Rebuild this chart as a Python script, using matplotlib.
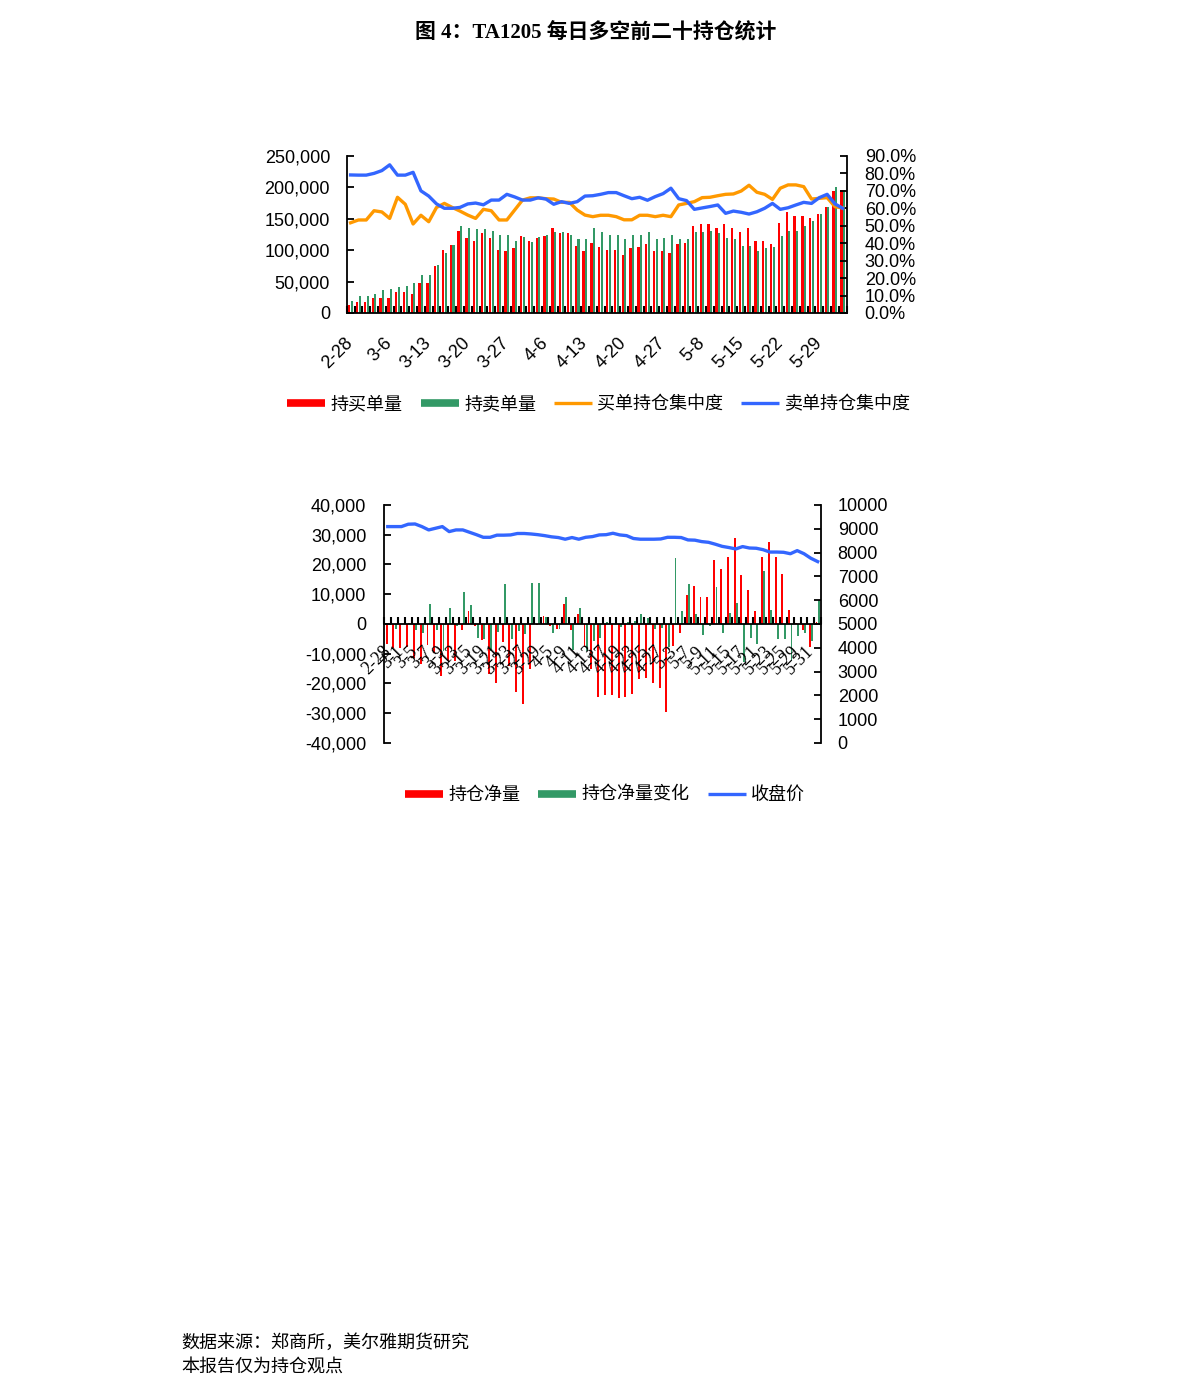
import matplotlib
matplotlib.use('Agg')
import numpy as np
import matplotlib.pyplot as plt
from matplotlib.lines import Line2D
from matplotlib.ticker import MultipleLocator, FuncFormatter

plt.rcParams['font.family'] = ['Liberation Sans', 'Noto Sans CJK SC']
CJK = ['Noto Sans CJK SC', 'DejaVu Sans']

# trading days, 2-28 .. 6-1
dates = ['2-28', '2-29', '3-1', '3-2', '3-5', '3-6', '3-7', '3-8', '3-9', '3-12',
         '3-13', '3-14', '3-15', '3-16', '3-19', '3-20', '3-21', '3-22', '3-23', '3-26',
         '3-27', '3-28', '3-29', '3-30', '4-5', '4-6', '4-9', '4-10', '4-11', '4-12',
         '4-13', '4-16', '4-17', '4-18', '4-19', '4-20', '4-23', '4-24', '4-25', '4-26',
         '4-27', '5-2', '5-3', '5-4', '5-7', '5-8', '5-9', '5-10', '5-11', '5-14',
         '5-15', '5-16', '5-17', '5-18', '5-21', '5-22', '5-23', '5-24', '5-25', '5-28',
         '5-29', '5-30', '5-31', '6-1']

# top chart: long / short volume of top 20 and concentration (%)
buy_vol = [12000, 17000, 17000, 24000, 24000, 24000, 34000, 34000, 31000, 48000,
           48000, 74000, 100000, 109000, 131000, 119000, 114000, 127000, 119000, 100000,
           98000, 103000, 122000, 115000, 119000, 122000, 136000, 127000, 127000, 107000,
           98000, 112000, 105000, 100000, 100000, 93000, 103000, 105000, 110000, 98000,
           98000, 95000, 110000, 112000, 138000, 141000, 141000, 136000, 141000, 136000,
           129000, 136000, 114000, 114000, 110000, 143000, 160000, 155000, 155000, 151000,
           157000, 168000, 194000, 196000]
sell_vol = [19000, 27000, 27000, 31000, 36000, 38000, 41000, 43000, 48000, 60000,
            60000, 76000, 95000, 109000, 138000, 136000, 134000, 134000, 131000, 124000,
            124000, 114000, 121000, 113000, 121000, 124000, 129000, 129000, 124000, 117000,
            117000, 136000, 129000, 124000, 124000, 117000, 124000, 124000, 129000, 117000,
            119000, 124000, 117000, 117000, 129000, 129000, 131000, 127000, 119000, 117000,
            107000, 107000, 98000, 103000, 105000, 122000, 131000, 131000, 138000, 146000,
            157000, 169000, 201000, 196000]
buy_conc = [51.7, 53.3, 53.3, 58.6, 57.9, 54.2, 66.3, 62.3, 51.0, 56.0,
            52.3, 60.5, 62.8, 60.5, 58.4, 56.1, 54.2, 59.4, 58.6, 53.3,
            53.3, 59.0, 64.7, 66.0, 66.0, 65.5, 65.3, 63.4, 63.4, 59.0,
            56.1, 55.2, 56.0, 56.0, 55.2, 53.4, 53.4, 56.0, 56.0, 55.2,
            56.0, 55.2, 61.9, 62.8, 63.8, 66.1, 66.3, 67.2, 68.0, 68.2,
            69.9, 73.2, 69.2, 68.0, 65.1, 71.5, 73.4, 73.4, 72.4, 65.3,
            65.7, 66.1, 60.9, 60.2]
sell_conc = [79.1, 79.0, 79.0, 80.0, 81.6, 84.9, 79.0, 79.0, 80.6, 70.0,
             67.0, 62.5, 60.0, 60.0, 60.5, 62.5, 63.0, 62.0, 64.7, 64.7,
             68.0, 66.5, 64.7, 64.7, 66.0, 65.3, 62.3, 63.8, 62.8, 63.8,
             67.0, 67.2, 68.0, 69.0, 69.0, 67.2, 65.5, 66.3, 64.6, 66.7,
             68.4, 71.5, 65.5, 64.4, 59.4, 60.2, 61.0, 61.9, 57.1, 58.4,
             57.7, 56.7, 58.0, 60.0, 62.8, 59.4, 60.3, 61.9, 63.4, 62.8,
             66.1, 68.0, 62.5, 60.0]

# bottom chart: net position, its daily change, close price
net_pos = [-6800, -8200, -8200, -7900, -11300, -13500, -7000, -9600, -17500, -12400,
           -12400, -2000, 4300, -600, -5400, -16900, -20000, -6200, -14000, -23000,
           -27000, -15000, -500, 2800, -600, -1700, 6800, -2000, 3300, -7900,
           -15200, -24600, -23900, -23900, -25000, -24500, -23400, -18600, -18300, -20000,
           -21400, -29500, -7300, -3000, 9800, 12800, 9200, 9200, 21400, 18400,
           22400, 29000, 16300, 11300, 4300, 22400, 27600, 22400, 16900, 4800,
           300, -2100, -7900, 600]
net_chg = [0, -1700, 0, 300, -2000, -3200, 6800, -2000, -9000, 5300,
           -800, 10900, 6300, -4700, -5100, -9000, -2800, 13300, -5100, -2300,
           -3400, 13700, 13700, 2300, -3200, -1700, 8900, -8800, 5300, -9000,
           -5600, -4700, 800, 0, -900, 600, 1100, 3200, 2000, -1700,
           -1400, -7900, 22000, 4300, 13300, 3200, -3700, -700, 12300, -3200,
           3700, 6900, -12700, -4700, -6800, 17900, 4800, -5200, -5200, -12400,
           -4200, -2900, -5700, 8200]
close_price = [9090, 9090, 9090, 9190, 9200, 9090, 8950, 9020, 9090, 8880,
               8950, 8950, 8850, 8750, 8640, 8640, 8730, 8730, 8740, 8800,
               8800, 8780, 8750, 8710, 8660, 8630, 8560, 8630, 8560, 8640,
               8670, 8740, 8750, 8810, 8740, 8710, 8590, 8560, 8560, 8560,
               8570, 8640, 8640, 8630, 8530, 8520, 8460, 8430, 8350, 8260,
               8210, 8150, 8250, 8190, 8180, 8120, 8020, 8020, 8010, 7950,
               8080, 7950, 7760, 7620]

RED = '#FF0000'
GREEN = '#339966'
ORANGE = '#FF9900'
BLUE = '#3366FF'


def style_twin(ax, axr):
    ax.spines['top'].set_visible(False)
    ax.spines['right'].set_visible(False)
    for s in ['top', 'left', 'bottom']:
        axr.spines[s].set_visible(False)
    for s in ['left', 'bottom']:
        ax.spines[s].set_linewidth(1.3)
    axr.spines['right'].set_linewidth(1.3)


def top_chart(fig, x):
    ax = fig.add_axes([0.2911, 0.7758, 0.4198, 0.1125])
    ax.bar(x - 0.17, buy_vol, width=0.3, color=RED)
    ax.bar(x + 0.17, sell_vol, width=0.26, color=GREEN)
    ax.set_xlim(-0.5, len(dates) - 0.5)
    ax.set_ylim(0, 250000)
    ax.yaxis.set_major_locator(MultipleLocator(50000))
    ax.yaxis.set_major_formatter(FuncFormatter(lambda v, p: f'{int(v):,}'))
    ax.tick_params(axis='y', direction='in', length=5, width=1.3, labelsize=13, pad=12)

    ax.set_xticks(x[::5])
    ax.set_xticklabels([dates[i] for i in x[::5]], rotation=45, ha='right', va='center',
                       rotation_mode='anchor')
    ax.set_xticks(np.arange(len(dates) + 1) - 0.5, minor=True)
    ax.tick_params(axis='x', which='major', length=0, labelsize=13, pad=20)
    ax.tick_params(axis='x', which='minor', direction='in', length=5, width=1.5)

    axr = ax.twinx()
    axr.plot(x, buy_conc, color=ORANGE, lw=2.4)
    axr.plot(x, sell_conc, color=BLUE, lw=2.4)
    axr.set_ylim(0, 90)
    axr.yaxis.set_major_locator(MultipleLocator(10))
    axr.yaxis.set_major_formatter(FuncFormatter(lambda v, p: f'{v:.1f}%'))
    axr.tick_params(axis='y', direction='in', length=5, width=1.3, labelsize=13, pad=13)
    style_twin(ax, axr)

    handles = [Line2D([], [], color=RED, lw=5.5, solid_capstyle='butt'),
               Line2D([], [], color=GREEN, lw=5.5, solid_capstyle='butt'),
               Line2D([], [], color=ORANGE, lw=2.4, solid_capstyle='butt'),
               Line2D([], [], color=BLUE, lw=2.4, solid_capstyle='butt')]
    labels = ['持买单量', '持卖单量', '买单持仓集中度', '卖单持仓集中度']
    fig.legend(handles, labels, loc='center', bbox_to_anchor=(0.503, 0.7105), ncol=4,
               frameon=False, prop={'family': CJK, 'size': 13}, handlelength=2.1,
               handletextpad=0.3, columnspacing=1.0)


def bottom_chart(fig, x):
    ax = fig.add_axes([0.3227, 0.4678, 0.3667, 0.1705])
    ax.bar(x - 0.17, net_pos, width=0.28, color=RED)
    ax.bar(x + 0.17, net_chg, width=0.28, color=GREEN)
    ax.set_xlim(-0.5, len(dates) - 0.5)
    ax.set_ylim(-40000, 40000)
    ax.spines['bottom'].set_position(('data', 0))
    ax.yaxis.set_major_locator(MultipleLocator(10000))
    ax.yaxis.set_major_formatter(FuncFormatter(lambda v, p: f'{int(v):,}'))
    ax.tick_params(axis='y', direction='in', length=5, width=1.3, labelsize=13, pad=13)

    ax.set_xticks(x[::2])
    ax.set_xticklabels([dates[i] for i in x[::2]], rotation=45, ha='right', va='center',
                       rotation_mode='anchor', family='Liberation Serif')
    ax.set_xticks(np.arange(len(dates) + 1) - 0.5, minor=True)
    ax.tick_params(axis='x', which='major', length=0, labelsize=13, pad=18)
    ax.tick_params(axis='x', which='minor', direction='in', length=5, width=1.5)

    axr = ax.twinx()
    axr.plot(x, close_price, color=BLUE, lw=2.4)
    axr.set_ylim(0, 10000)
    axr.yaxis.set_major_locator(MultipleLocator(1000))
    axr.tick_params(axis='y', direction='in', length=5, width=1.3, labelsize=13, pad=12)
    style_twin(ax, axr)

    handles = [Line2D([], [], color=RED, lw=5.5, solid_capstyle='butt'),
               Line2D([], [], color=GREEN, lw=5.5, solid_capstyle='butt'),
               Line2D([], [], color=BLUE, lw=2.4, solid_capstyle='butt')]
    labels = ['持仓净量', '持仓净量变化', '收盘价']
    fig.legend(handles, labels, loc='center', bbox_to_anchor=(0.508, 0.4305), ncol=3,
               frameon=False, prop={'family': CJK, 'size': 13}, handlelength=2.1,
               handletextpad=0.3, columnspacing=1.0)


def main():
    fig = plt.figure(figsize=(11.91, 13.96), dpi=100)
    x = np.arange(len(dates))

    fig.text(0.5004, 1 - 32 / 1396, '图 4：TA1205 每日多空前二十持仓统计', ha='center',
             va='center', fontsize=15, fontweight='bold',
             family=['Liberation Serif', 'Noto Sans CJK SC'])

    top_chart(fig, x)
    bottom_chart(fig, x)

    fig.text(181 / 1191, 1 - 1343 / 1396, '数据来源：郑商所，美尔雅期货研究', va='center',
             fontsize=13, family=CJK)
    fig.text(181 / 1191, 1 - 1367 / 1396, '本报告仅为持仓观点', va='center',
             fontsize=13, family=CJK)

    fig.savefig('out.png', dpi=100)


if __name__ == '__main__':
    main()
